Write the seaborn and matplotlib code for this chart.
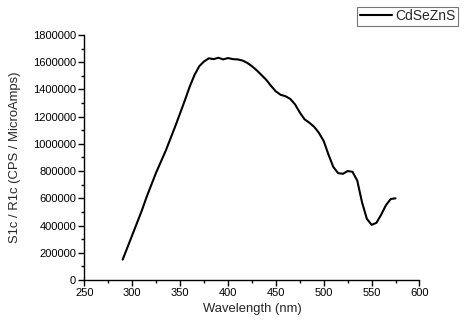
import matplotlib
matplotlib.use("Agg")
import matplotlib.pyplot as plt
from matplotlib.ticker import MultipleLocator
import pandas as pd
import seaborn as sns

# Emission spectrum of CdSe/ZnS quantum dots
wavelength = [290, 295, 300, 305, 310, 315, 320, 325, 330, 335, 340, 345, 350,
              355, 360, 365, 370, 375, 380, 385, 390, 395, 400, 405, 410, 415,
              420, 425, 430, 435, 440, 445, 450, 455, 460, 465, 470, 475, 480,
              485, 490, 495, 500, 505, 510, 515, 520, 525, 530, 535, 540, 545,
              550, 555, 560, 565, 570, 575]
intensity = [150000, 240000, 330000, 420000, 510000, 610000, 700000, 790000,
             870000, 950000, 1040000, 1130000, 1225000, 1320000, 1420000,
             1505000, 1570000, 1605000, 1628000, 1622000, 1632000, 1620000,
             1630000, 1622000, 1620000, 1612000, 1595000, 1570000, 1540000,
             1505000, 1470000, 1425000, 1385000, 1360000, 1350000, 1330000,
             1290000, 1230000, 1180000, 1155000, 1125000, 1080000, 1020000,
             920000, 830000, 785000, 780000, 800000, 795000, 730000, 570000,
             450000, 405000, 420000, 480000, 550000, 595000, 600000]
series_name = "CdSeZnS"

df = pd.DataFrame({"Wavelength (nm)": wavelength,
                   "S1c / R1c (CPS / MicroAmps)": intensity,
                   "sample": series_name})

sns.set_style("ticks")
plt.rcParams["font.family"] = ["Liberation Sans", "DejaVu Sans"]

fig = plt.figure(figsize=(4.74, 3.26), dpi=100)
ax = fig.add_axes([0.178, 0.141, 0.707, 0.752])

sns.lineplot(data=df, x="Wavelength (nm)", y="S1c / R1c (CPS / MicroAmps)",
             hue="sample", palette=["black"], linewidth=1.5, ax=ax, legend=False)

ax.set_xlim(250, 600)
ax.set_ylim(0, 1800000)
ax.xaxis.set_major_locator(MultipleLocator(50))
ax.xaxis.set_minor_locator(MultipleLocator(25))
ax.yaxis.set_major_locator(MultipleLocator(200000))
ax.yaxis.set_minor_locator(MultipleLocator(100000))
ax.ticklabel_format(axis="y", style="plain")

for side in ("top", "right"):
    ax.spines[side].set_visible(False)
for side in ("left", "bottom"):
    ax.spines[side].set_linewidth(1.0)
    ax.spines[side].set_color("black")

ax.tick_params(which="major", direction="out", length=4, width=1.0,
               labelsize=8, pad=2, colors="black")
ax.tick_params(which="minor", direction="out", length=2.5, width=1.0,
               colors="black")

ax.set_xlabel("Wavelength (nm)", fontsize=9.4, labelpad=3)
ax.set_ylabel("S1c / R1c (CPS / MicroAmps)", fontsize=9.4, labelpad=8.5)

handle, = ax.plot([], [], color="black", linewidth=1.5)
leg = fig.legend([handle], [series_name], loc="upper right",
                 bbox_to_anchor=(0.966, 0.98), fontsize=10,
                 frameon=True, fancybox=False, borderpad=0.2,
                 handlelength=2.3, handletextpad=0.2, borderaxespad=0)
leg.get_frame().set_edgecolor("#555555")
leg.get_frame().set_linewidth(0.8)

fig.savefig("out.png", dpi=100)
